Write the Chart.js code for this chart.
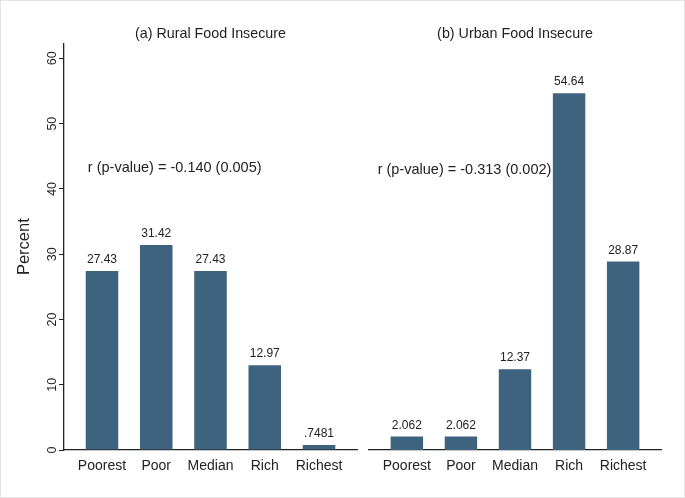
<!DOCTYPE html>
<html>
<head>
    <title>Food Insecure by Wealth Group</title>
    <script src="https://cdn.jsdelivr.net/npm/chart.js"></script>
    <style>
        body { margin: 0; background: #fff; }
        #wrap { position: relative; width: 685px; height: 498px; overflow: hidden; }
        #wrap canvas { position: absolute; top: 0; }
        #frame { position: absolute; left: 0; top: 0; width: 685px; height: 498px; box-sizing: border-box; border: 1px solid #e4e4e4; pointer-events: none; }
    </style>
</head>
<body>
    <div id="wrap">
        <canvas id="chartRural" width="360" height="498" style="left:0"></canvas>
        <canvas id="chartUrban" width="325" height="498" style="left:360px"></canvas>
        <div id="frame"></div>
    </div>

    <script>
    // data
    const wealthGroups = ['Poorest', 'Poor', 'Median', 'Rich', 'Richest'];
    const ruralValues = [27.43, 31.42, 27.43, 12.97, 0.7481];
    const urbanValues = [2.062, 2.062, 12.37, 54.64, 28.87];
    const ruralTitle = '(a) Rural Food Insecure';
    const urbanTitle = '(b) Urban Food Insecure';
    const ruralNote = 'r (p-value) = -0.140 (0.005)';
    const urbanNote = 'r (p-value) = -0.313 (0.002)';

    const FONT = '"Liberation Sans", Arial, sans-serif';
    const BAR = '#3e637f';

    // stata style: drop the leading zero
    function fmt(v) {
        return String(v).replace(/^0\./, '.');
    }

    const barText = {
        id: 'barText',
        afterDatasetsDraw(chart, args, opts) {
            const ctx = chart.ctx;
            const meta = chart.getDatasetMeta(0);
            const vals = chart.data.datasets[0].data;
            ctx.save();
            ctx.fillStyle = '#222';
            ctx.font = '12px ' + FONT;
            ctx.textAlign = 'center';
            ctx.textBaseline = 'alphabetic';
            meta.data.forEach((bar, i) => {
                ctx.fillText(fmt(vals[i].y), bar.x, bar.y - 8);
            });
            // correlation note
            ctx.font = '14.5px ' + FONT;
            ctx.textAlign = 'left';
            ctx.textBaseline = 'middle';
            ctx.fillText(opts.note, chart.scales.x.getPixelForValue(opts.noteX), chart.scales.y.getPixelForValue(opts.noteY));
            ctx.restore();
        }
    };

    function makeChart(id, values, title, note, noteX, noteY, showY, pad) {
        const ctx = document.getElementById(id).getContext('2d');
        return new Chart(ctx, {
            type: 'bar',
            data: {
                datasets: [{
                    data: values.map((v, i) => ({ x: i, y: v })),
                    backgroundColor: BAR,
                    borderWidth: 0,
                    barPercentage: 0.6,
                    categoryPercentage: 1
                }]
            },
            options: {
                responsive: false,
                animation: false,
                layout: { padding: pad },
                plugins: {
                    legend: { display: false },
                    tooltip: { enabled: false },
                    title: {
                        display: true,
                        text: title,
                        fullSize: false,
                        color: '#222',
                        font: { family: FONT, size: 14.3, weight: 'normal' },
                        padding: { top: 25.4, bottom: 0.8 }
                    },
                    barText: { note: note, noteX: noteX, noteY: noteY }
                },
                scales: {
                    x: {
                        type: 'linear',
                        offset: false,
                        min: -0.7,
                        max: 4.7,
                        grid: { display: false, drawTicks: false },
                        border: { display: true, color: '#222', width: 1.3 },
                        ticks: {
                            stepSize: 1,
                            includeBounds: false,
                            autoSkip: false,
                            minRotation: 0,
                            maxRotation: 0,
                            padding: 8,
                            color: '#222',
                            font: { family: FONT, size: 14 },
                            callback: v => wealthGroups[v] || ''
                        },
                        afterFit: s => { s.height = 48; }
                    },
                    y: {
                        display: showY,
                        min: 0,
                        max: 62.3,
                        grid: { display: true, drawOnChartArea: false, drawTicks: true, tickLength: 5, color: '#222', lineWidth: 1 },
                        border: { display: true, color: '#222', width: 1.3 },
                        ticks: {
                            stepSize: 10,
                            includeBounds: false,
                            minRotation: 90,
                            maxRotation: 90,
                            crossAlign: 'center',
                            padding: 0,
                            color: '#222',
                            font: { family: FONT, size: 12.5 }
                        },
                        title: {
                            display: true,
                            text: 'Percent',
                            color: '#222',
                            font: { family: FONT, size: 16.5 },
                            padding: { top: 15, bottom: 0 }
                        },
                        afterFit: s => { s.width = showY ? 64 : 0; }
                    }
                }
            },
            plugins: [barText]
        });
    }

    makeChart('chartRural', ruralValues, ruralTitle, ruralNote, -0.26, 43.2, true, { left: 0, right: 3, top: 0, bottom: 0 });
    makeChart('chartUrban', urbanValues, urbanTitle, urbanNote, -0.54, 42.9, false, { left: 9, right: 24, top: 0, bottom: 0 });
    </script>
</body>
</html>
